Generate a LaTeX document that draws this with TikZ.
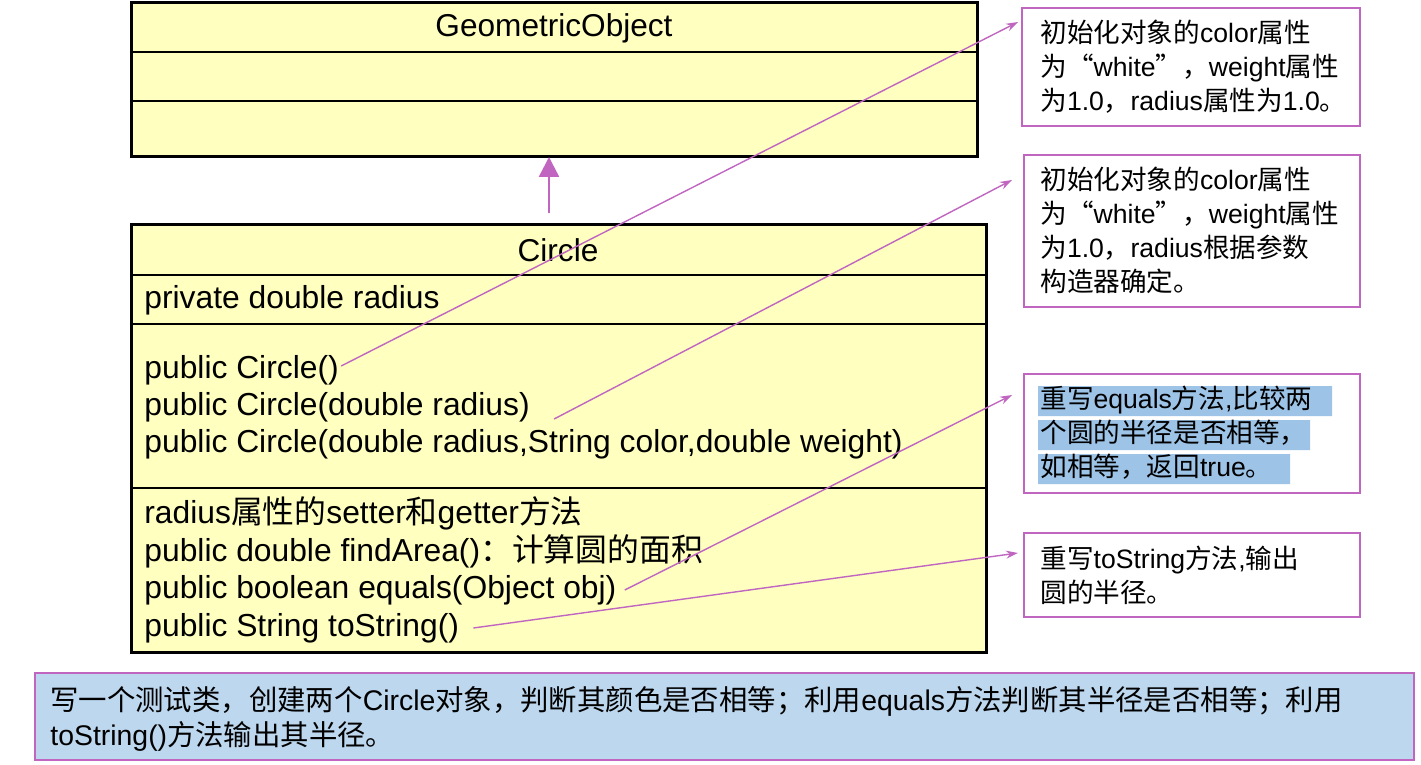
\documentclass[tikz,border=0pt]{standalone}
\usepackage{fontspec}
\setmainfont{Liberation Sans}
\newfontfamily\cjk{Noto Sans CJK SC}
\newcommand\zh[1]{{\cjk #1}}
\definecolor{umlfill}{HTML}{FFFFC0}
\definecolor{vio}{HTML}{C066C0}
\definecolor{hl}{HTML}{9DC3E6}
\definecolor{bot}{HTML}{BDD7EE}
\usetikzlibrary{arrows.meta}
\tikzset{
 umlbox/.style={draw=black,line width=1.5pt,fill=umlfill},
 notebox/.style={draw=vio,line width=0.8pt,fill=white},
 txt/.style={anchor=west,inner sep=0pt,font=\fontsize{15.9}{18}\selectfont},
 ntxt/.style={anchor=north west,inner sep=0pt,align=left,font=\fontsize{13.3}{17}\selectfont},
 conn/.style={draw=vio,line width=0.7pt,-{Stealth[length=6pt,width=4pt]}}
}
\begin{document}
\begin{tikzpicture}[x=0.5pt,y=-0.5pt]
\useasboundingbox (0,0) rectangle (1421,765);
% GeometricObject
\draw[umlbox] (131,3) rectangle (977,157);
\draw[line width=0.8pt] (131,52) -- (977,52) (131,101) -- (977,101);
\node[font=\fontsize{15.8}{18}\selectfont] (go) at (554,28) {GeometricObject};
\coordinate (gob) at (549,157);
% Circle
\draw[umlbox] (131,225) rectangle (986,652);
\draw[line width=0.8pt] (131,275) -- (986,275) (131,324) -- (986,324) (131,488) -- (986,488);
\node[font=\fontsize{15.8}{18}\selectfont] (ci) at (558,250) {Circle};
\coordinate (cit) at (549,213);
\draw[draw=vio,line width=1.2pt,-{Triangle[length=10pt,width=10pt]}] (cit) -- (gob);
\node[txt] (a1) at (144,300) {private double radius};
\node[txt] (c1) at (144,370) {public Circle()};
\node[txt] (c2) at (144,407) {public Circle(double radius)};
\node[txt] (c3) at (144,444) {public Circle(double radius,String color,double weight)};
\node[txt] (m1) at (144,513) {radius\zh{属性的}setter\zh{和}getter\zh{方法}};
\node[txt] (m2) at (144,551) {public double findArea()\zh{：计算圆的面积}};
\node[txt] (m3) at (144,590) {public boolean equals(Object obj)};
\node[txt] (m4) at (144,628) {public String toString()};
% notes
\draw[notebox] (1022,8) rectangle (1360,126);
\node[ntxt] (n1) at (1040,20) {\zh{初始化对象的}color\zh{属性}\\\zh{为“}white\zh{”，}weight\zh{属性}\\\zh{为}1.0\zh{，}radius\zh{属性为}1.0\zh{。}};
\draw[notebox] (1024,155) rectangle (1360,307);
\node[ntxt] (n2) at (1040,167) {\zh{初始化对象的}color\zh{属性}\\\zh{为“}white\zh{”，}weight\zh{属性}\\\zh{为}1.0\zh{，}radius\zh{根据参数}\\\zh{构造器确定。}};
\draw[notebox] (1024,374) rectangle (1360,493);
\fill[hl] (1038,386) rectangle (1332,416) (1038,420) rectangle (1310,450) (1038,454) rectangle (1290,484);
\node[ntxt] (n3) at (1040,386) {\zh{重写}equals\zh{方法}{,}\zh{比较两}\\\zh{个圆的半径是否相等，}\\\zh{如相等，返回}true\zh{。}};
\draw[notebox] (1024,533) rectangle (1360,617);
\node[ntxt] (n4) at (1040,546) {\zh{重写}toString\zh{方法}{,}\zh{输出}\\\zh{圆的半径。}};
% bottom
\draw[draw=vio,line width=0.8pt,fill=bot] (35,673) rectangle (1414,760);
\node[ntxt,font=\fontsize{14.2}{17.5}\selectfont] (bt) at (50,686) {\zh{写一个测试类，创建两个}Circle\zh{对象，判断其颜色是否相等；利用}equals\zh{方法判断其半径是否相等；利用}\\toString()\zh{方法输出其半径。}};
% connectors
\coordinate (e1) at (1018,22);
\coordinate (e2) at (1012,180);
\coordinate (e3) at (1012,395);
\coordinate (e4) at (1018,553);
\draw[conn] ([xshift=1pt,yshift=2pt]c1.east) -- (e1);
\draw[conn] ([xshift=12pt,yshift=-6pt]c2.east) -- (e2);
\draw[conn] ([xshift=4pt]m3.east) -- (e3);
\draw[conn] ([xshift=7pt]m4.east) -- (e4);
\end{tikzpicture}
\end{document}
